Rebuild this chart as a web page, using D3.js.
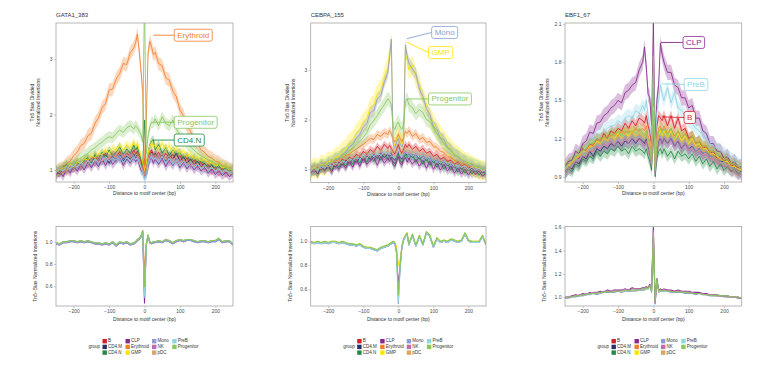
<!DOCTYPE html>
<html>
<head>
<meta charset="utf-8">
<script src="https://cdn.jsdelivr.net/npm/d3@7"></script>
<style>
  body { margin: 0; background: #fff; }
  text { font-family: "Liberation Sans", Arial, sans-serif; }
</style>
</head>
<body>
<svg id="chart" width="779" height="389"></svg>
<script>
// groups + palette
const groupNames = ['B', 'CD4.M', 'CD4.N', 'CLP', 'Erythroid', 'GMP', 'Mono', 'NK', 'pDC', 'PreB', 'Progenitor'];
const groupColors = ['#D51F26', '#272E6A', '#208A42', '#89288F', '#F47D2B', '#FEE500', '#8A9FD1', '#C06CAB', '#D8A767', '#90D5E4', '#89C75F'];

// distance to motif center (bp)
const positions = [-250,-240,-230,-220,-210,-200,-190,-180,-170,-160,-150,-140,-130,-120,-110,-100,-90,-80,-70,-60,-50,-40,-30,
  -25,-20,-15,-10,-5,0,5,10,15,20,25,
  30,40,50,60,70,80,90,100,110,120,130,140,150,160,170,180,190,200,210,220,230,240,250];
const xTicks = [-200, -100, 0, 100, 200];

// ---- GATA1_383, Tn5 bias divided ----
const g1_B = [0.92,1.0,0.96,1.05,1.02,1.1,1.04,1.14,1.08,1.2,1.12,1.24,1.16,1.22,1.3,1.18,1.28,1.22,1.33,1.2,1.3,1.24,1.36,
  1.28,1.34,1.22,1.16,1.05,0.92,1.0,1.22,1.3,1.36,1.28,
  1.24,1.32,1.2,1.3,1.22,1.28,1.18,1.26,1.14,1.22,1.1,1.18,1.08,1.14,1.04,1.1,0.98,1.06,0.96,1.03,0.94,1.0,0.96];
const g1_CD4M = [0.98,0.93,1.04,0.99,1.08,1.02,1.12,1.06,1.16,1.1,1.2,1.13,1.22,1.15,1.26,1.12,1.24,1.18,1.28,1.16,1.25,1.2,1.3,
  1.22,1.3,1.18,1.12,1.0,0.9,0.98,1.16,1.26,1.32,1.24,
  1.3,1.2,1.28,1.16,1.26,1.2,1.3,1.15,1.24,1.12,1.2,1.1,1.16,1.06,1.12,1.02,1.08,1.0,1.05,0.97,1.02,0.95,0.98];
const g1_CD4N = [1.0,0.94,1.06,1.1,1.0,1.1,1.14,1.06,1.18,1.22,1.12,1.28,1.2,1.32,1.22,1.36,1.26,1.32,1.42,1.28,1.38,1.3,1.45,
  1.36,1.42,1.3,1.2,1.08,1.9,1.0,1.3,1.45,1.52,1.55,
  1.36,1.46,1.3,1.4,1.26,1.36,1.28,1.32,1.2,1.26,1.16,1.22,1.12,1.16,1.1,1.06,1.1,1.02,1.08,1.0,1.05,0.98,1.02];
const g1_CLP = [0.9,0.98,0.88,1.02,0.95,1.06,0.98,1.1,1.0,1.14,1.04,1.16,1.06,1.2,1.08,1.22,1.1,1.18,1.25,1.08,1.2,1.12,1.24,
  1.15,1.2,1.1,1.0,0.95,1.2,0.9,1.05,1.18,1.22,1.12,
  1.2,1.1,1.22,1.06,1.18,1.08,1.2,1.04,1.15,1.02,1.12,1.0,1.08,0.98,1.05,0.94,1.02,0.92,0.98,0.9,0.96,0.88,0.94];
const g1_Ery = [0.97,1.02,1.04,1.12,1.16,1.26,1.32,1.44,1.48,1.62,1.66,1.84,1.94,2.12,2.2,2.44,2.46,2.64,2.74,2.92,2.9,3.12,3.2,
  3.3,3.45,3.15,2.8,2.4,1.0,1.9,3.1,3.32,3.22,3.08,
  3.12,2.92,2.88,2.66,2.62,2.42,2.32,2.08,1.98,1.78,1.7,1.52,1.48,1.36,1.32,1.24,1.22,1.16,1.14,1.08,1.06,1.02,1.0];
const g1_GMP = [0.95,1.0,1.04,0.98,1.1,1.06,1.15,1.12,1.2,1.18,1.26,1.22,1.3,1.28,1.36,1.3,1.4,1.34,1.44,1.36,1.46,1.4,1.5,
  1.42,1.48,1.36,1.25,1.12,1.0,1.1,1.3,1.44,1.5,1.4,
  1.46,1.38,1.48,1.36,1.44,1.32,1.4,1.3,1.35,1.24,1.3,1.2,1.24,1.16,1.2,1.12,1.14,1.08,1.1,1.04,1.06,1.0,1.02];
const g1_Mono = [0.96,1.02,0.97,1.06,1.0,1.1,1.04,1.12,1.08,1.16,1.1,1.2,1.12,1.24,1.14,1.22,1.18,1.26,1.16,1.24,1.2,1.28,1.18,
  1.26,1.2,1.14,1.06,0.98,0.85,0.95,1.1,1.22,1.26,1.2,
  1.24,1.16,1.26,1.14,1.22,1.12,1.2,1.1,1.18,1.08,1.14,1.06,1.1,1.04,1.08,1.0,1.04,0.98,1.02,0.96,1.0,0.94,0.98];
const g1_NK = [0.94,0.99,1.03,0.96,1.07,1.02,1.1,1.05,1.14,1.09,1.18,1.12,1.2,1.15,1.24,1.18,1.22,1.28,1.2,1.26,1.22,1.3,1.24,
  1.2,1.26,1.16,1.08,1.0,0.9,1.02,1.15,1.24,1.2,1.26,
  1.18,1.26,1.16,1.24,1.12,1.22,1.14,1.18,1.1,1.16,1.06,1.12,1.04,1.1,1.0,1.06,0.98,1.04,0.96,1.0,0.94,0.98,0.95];
const g1_pDC = [1.0,0.95,1.04,1.0,1.08,1.03,1.12,1.07,1.16,1.1,1.2,1.14,1.24,1.16,1.22,1.2,1.28,1.22,1.3,1.24,1.28,1.22,1.32,
  1.26,1.3,1.2,1.1,1.02,0.92,1.0,1.18,1.28,1.3,1.24,
  1.28,1.2,1.3,1.18,1.26,1.16,1.24,1.14,1.2,1.1,1.16,1.08,1.12,1.04,1.1,1.02,1.06,1.0,1.04,0.98,1.02,0.96,1.0];
const g1_PreB = [0.95,1.02,0.98,1.06,1.02,1.1,1.05,1.14,1.08,1.18,1.1,1.2,1.14,1.18,1.24,1.16,1.22,1.18,1.26,1.14,1.22,1.16,1.24,
  1.18,1.22,1.14,1.05,0.95,0.82,0.88,1.1,1.2,1.24,1.18,
  1.22,1.14,1.24,1.12,1.2,1.1,1.18,1.08,1.16,1.06,1.12,1.04,1.1,1.02,1.06,1.0,1.04,0.98,1.02,0.96,1.0,0.95,0.98];
const g1_Prog = [0.95,1.02,1.0,1.08,1.12,1.1,1.18,1.22,1.26,1.3,1.36,1.4,1.46,1.5,1.56,1.6,1.58,1.66,1.72,1.68,1.76,1.8,1.74,
  1.8,1.76,1.7,1.64,1.5,4.2,1.3,1.6,1.78,1.86,1.85,
  1.92,1.8,1.96,1.84,1.8,1.9,1.74,1.62,1.56,1.46,1.42,1.36,1.3,1.26,1.22,1.18,1.16,1.12,1.1,1.08,1.05,1.02,1.0];
const g1_spread = [0.08, 0.07, 0.08, 0.08, 0.12, 0.08, 0.07, 0.08, 0.07, 0.08, 0.1];

// ---- CEBPA_155 ----
const g2_B = [0.95,1.02,0.98,1.08,1.02,1.1,1.06,1.14,1.1,1.2,1.16,1.24,1.2,1.3,1.26,1.36,1.3,1.4,1.34,1.46,1.38,1.5,1.42,
  1.48,1.42,1.36,1.3,1.4,1.5,1.38,1.32,1.4,1.5,1.44,
  1.5,1.4,1.46,1.36,1.42,1.32,1.36,1.26,1.3,1.2,1.24,1.16,1.18,1.1,1.14,1.06,1.1,1.02,1.06,0.98,1.02,0.95,0.98];
const g2_CD4M = [1.0,0.94,1.04,0.98,1.06,1.02,1.1,1.04,1.14,1.08,1.18,1.12,1.2,1.14,1.24,1.18,1.26,1.2,1.3,1.22,1.32,1.24,1.3,
  1.26,1.32,1.22,1.18,1.28,1.36,1.24,1.2,1.3,1.34,1.28,
  1.32,1.24,1.3,1.2,1.28,1.18,1.24,1.14,1.2,1.1,1.16,1.08,1.12,1.04,1.1,1.0,1.06,0.98,1.02,0.95,1.0,0.93,0.96];
const g2_CD4N = [0.96,1.02,0.9,1.06,1.0,1.08,0.98,1.12,1.04,1.16,1.06,1.2,1.1,1.24,1.12,1.26,1.14,1.3,1.16,1.28,1.18,1.32,1.2,
  1.26,1.2,1.15,1.1,1.2,1.3,1.18,1.12,1.22,1.3,1.24,
  1.2,1.3,1.14,1.26,1.1,1.22,1.08,1.18,1.04,1.16,1.0,1.12,0.98,1.08,0.94,1.06,0.92,1.02,0.9,1.0,0.88,0.96,0.9];
const g2_CLP = [0.92,1.0,0.9,1.04,0.96,1.06,0.94,1.1,1.0,1.12,1.02,1.16,1.04,1.2,1.06,1.22,1.1,1.18,1.24,1.08,1.26,1.12,1.22,
  1.16,1.24,1.1,1.06,1.15,1.25,1.12,1.08,1.18,1.24,1.14,
  1.22,1.1,1.2,1.06,1.18,1.02,1.16,1.0,1.12,0.98,1.1,0.96,1.06,0.92,1.02,0.9,1.0,0.88,0.98,0.9,0.96,0.86,0.92];
const g2_Ery = [0.98,1.04,1.0,1.08,1.05,1.1,1.12,1.16,1.2,1.22,1.28,1.3,1.36,1.4,1.46,1.5,1.56,1.62,1.6,1.7,1.66,1.74,1.7,
  1.78,1.72,1.6,1.55,1.6,1.7,1.62,1.56,1.64,1.76,1.72,
  1.78,1.66,1.72,1.6,1.64,1.54,1.56,1.46,1.44,1.36,1.34,1.26,1.24,1.18,1.16,1.12,1.1,1.06,1.05,1.02,1.0,0.98,0.97];
const g2_GMP = [0.98,1.04,1.0,1.1,1.06,1.16,1.14,1.24,1.26,1.36,1.4,1.52,1.58,1.72,1.8,1.95,2.02,2.24,2.3,2.52,2.6,2.85,3.05,
  3.35,3.55,1.55,1.48,1.6,1.66,1.56,1.5,1.58,3.42,3.2,
  3.0,3.1,2.85,2.7,2.42,2.3,2.06,1.92,1.78,1.68,1.58,1.5,1.4,1.32,1.26,1.2,1.14,1.12,1.06,1.04,1.0,0.98,0.96];
const g2_Mono = [0.96,1.02,0.97,1.08,1.03,1.12,1.1,1.2,1.2,1.3,1.34,1.45,1.5,1.63,1.7,1.85,1.92,2.14,2.18,2.42,2.48,2.76,2.95,
  3.25,3.62,1.5,1.42,1.55,1.62,1.5,1.45,1.52,3.5,3.28,
  3.14,3.02,2.92,2.62,2.46,2.22,2.1,1.86,1.8,1.62,1.6,1.44,1.4,1.28,1.26,1.16,1.16,1.08,1.08,1.0,1.02,0.96,0.97];
const g2_NK = [0.98,0.94,1.04,1.0,1.08,1.02,1.12,1.06,1.16,1.1,1.2,1.14,1.22,1.16,1.26,1.2,1.28,1.22,1.3,1.24,1.34,1.26,1.32,
  1.28,1.34,1.24,1.2,1.3,1.38,1.26,1.22,1.32,1.36,1.3,
  1.34,1.26,1.32,1.22,1.3,1.2,1.26,1.16,1.22,1.12,1.18,1.08,1.14,1.04,1.1,1.02,1.06,0.98,1.04,0.96,1.0,0.94,0.98];
const g2_pDC = [1.02,0.97,1.06,1.0,1.1,1.04,1.14,1.08,1.18,1.12,1.22,1.16,1.26,1.2,1.3,1.22,1.34,1.26,1.36,1.3,1.4,1.32,1.38,
  1.34,1.4,1.3,1.26,1.36,1.42,1.32,1.28,1.36,1.42,1.36,
  1.4,1.3,1.38,1.28,1.34,1.24,1.3,1.2,1.26,1.16,1.2,1.12,1.16,1.08,1.12,1.04,1.08,1.0,1.05,0.98,1.02,0.96,1.0];
const g2_PreB = [0.96,1.02,0.98,1.06,1.02,1.1,1.06,1.12,1.1,1.16,1.14,1.2,1.18,1.24,1.2,1.28,1.22,1.3,1.26,1.32,1.28,1.34,1.3,
  1.32,1.28,1.24,1.22,1.3,1.4,1.28,1.24,1.3,1.34,1.3,
  1.32,1.26,1.3,1.24,1.28,1.2,1.24,1.16,1.2,1.12,1.16,1.1,1.12,1.06,1.08,1.04,1.06,1.0,1.04,0.98,1.02,0.96,1.0];
const g2_Prog = [0.98,1.02,1.0,1.08,1.06,1.12,1.14,1.2,1.22,1.28,1.3,1.38,1.42,1.5,1.56,1.64,1.74,1.9,1.98,2.08,2.2,2.3,2.42,
  2.38,2.3,1.85,1.8,1.9,1.95,1.85,1.8,1.9,2.35,2.42,
  2.3,2.24,2.12,2.2,2.14,2.0,1.96,1.84,1.72,1.62,1.52,1.44,1.36,1.3,1.26,1.2,1.16,1.12,1.1,1.06,1.04,1.0,1.0];
const g2_spread = [0.08, 0.07, 0.09, 0.08, 0.09, 0.2, 0.12, 0.08, 0.07, 0.08, 0.14];

// ---- EBF1_67 ----
const g3_B = [0.95,1.0,1.0,1.06,1.04,1.12,1.1,1.16,1.14,1.2,1.18,1.24,1.2,1.26,1.24,1.28,1.26,1.32,1.28,1.34,1.3,1.36,1.34,
  1.32,1.38,1.3,1.25,1.15,1.6,1.1,1.3,1.38,1.36,1.34,
  1.38,1.3,1.38,1.28,1.36,1.26,1.28,1.2,1.22,1.16,1.18,1.12,1.14,1.08,1.1,1.04,1.06,1.02,1.04,0.98,1.0,0.95,0.97];
const g3_CD4M = [0.94,0.98,0.96,1.02,1.0,1.06,1.04,1.1,1.06,1.12,1.1,1.14,1.12,1.16,1.14,1.18,1.14,1.18,1.16,1.2,1.16,1.2,1.18,
  1.16,1.2,1.14,1.1,1.0,1.3,0.95,1.1,1.18,1.2,1.16,
  1.2,1.16,1.2,1.14,1.18,1.12,1.16,1.12,1.14,1.1,1.12,1.08,1.1,1.06,1.06,1.04,1.02,1.02,1.0,0.98,0.97,0.95,0.94];
const g3_CD4N = [0.92,0.96,0.94,1.0,0.98,1.04,1.02,1.06,1.04,1.1,1.06,1.1,1.08,1.12,1.1,1.14,1.1,1.12,1.08,1.14,1.1,1.12,1.1,
  1.08,1.12,1.06,1.02,0.95,1.4,0.9,1.04,1.1,1.12,1.08,
  1.12,1.06,1.1,1.04,1.1,1.06,1.08,1.04,1.08,1.02,1.06,1.0,1.04,0.98,1.02,0.96,1.0,0.95,0.98,0.94,0.96,0.92,0.94];
const g3_CLP = [0.98,1.02,1.03,1.1,1.08,1.16,1.18,1.25,1.24,1.32,1.33,1.38,1.4,1.44,1.46,1.5,1.48,1.56,1.58,1.62,1.64,1.74,1.8,
  1.92,1.76,1.55,1.52,1.3,2.12,1.2,1.5,1.62,1.95,1.86,
  1.8,1.72,1.72,1.62,1.6,1.52,1.52,1.44,1.46,1.36,1.36,1.26,1.24,1.16,1.16,1.1,1.1,1.04,1.06,1.0,1.02,0.97,0.98];
const g3_Ery = [0.96,1.0,1.02,1.04,1.08,1.1,1.12,1.14,1.16,1.18,1.2,1.2,1.22,1.22,1.24,1.22,1.26,1.24,1.26,1.24,1.28,1.26,1.28,
  1.26,1.3,1.22,1.18,1.05,1.5,1.0,1.2,1.28,1.3,1.26,
  1.3,1.24,1.28,1.22,1.26,1.2,1.24,1.18,1.22,1.16,1.18,1.14,1.14,1.1,1.1,1.08,1.06,1.04,1.04,1.0,1.0,0.98,0.96];
const g3_GMP = [0.95,0.99,1.01,1.05,1.06,1.1,1.1,1.14,1.14,1.18,1.16,1.2,1.18,1.22,1.2,1.24,1.2,1.24,1.22,1.26,1.22,1.24,1.22,
  1.2,1.24,1.18,1.12,1.02,1.45,0.98,1.16,1.22,1.26,1.22,
  1.26,1.2,1.26,1.18,1.24,1.18,1.22,1.16,1.2,1.14,1.16,1.12,1.12,1.08,1.08,1.06,1.04,1.02,1.02,0.98,0.98,0.96,0.95];
const g3_Mono = [0.93,0.97,0.99,1.02,1.04,1.08,1.08,1.12,1.12,1.15,1.14,1.18,1.16,1.2,1.16,1.2,1.18,1.22,1.18,1.22,1.2,1.22,1.2,
  1.18,1.22,1.15,1.1,1.0,1.4,0.95,1.12,1.2,1.22,1.18,
  1.22,1.18,1.22,1.16,1.2,1.14,1.18,1.12,1.16,1.1,1.12,1.08,1.1,1.06,1.06,1.04,1.02,1.0,1.0,0.97,0.96,0.94,0.93];
const g3_NK = [0.92,0.96,0.98,1.02,1.02,1.06,1.06,1.1,1.1,1.14,1.12,1.16,1.14,1.18,1.14,1.18,1.16,1.2,1.16,1.2,1.18,1.2,1.16,
  1.14,1.18,1.12,1.06,0.98,1.35,0.92,1.08,1.16,1.2,1.16,
  1.2,1.16,1.2,1.14,1.18,1.12,1.16,1.1,1.14,1.08,1.1,1.06,1.08,1.04,1.04,1.02,1.0,0.98,0.98,0.95,0.94,0.92,0.92];
const g3_pDC = [0.95,0.98,1.0,1.04,1.06,1.08,1.1,1.12,1.14,1.16,1.16,1.2,1.18,1.22,1.18,1.22,1.2,1.24,1.2,1.24,1.22,1.24,1.22,
  1.2,1.24,1.16,1.12,1.02,1.42,0.98,1.14,1.22,1.24,1.2,
  1.24,1.2,1.24,1.18,1.22,1.16,1.2,1.14,1.18,1.12,1.14,1.1,1.1,1.08,1.06,1.04,1.04,1.02,1.0,0.98,0.97,0.95,0.95];
const g3_PreB = [0.96,1.0,1.02,1.06,1.08,1.1,1.14,1.16,1.2,1.2,1.24,1.26,1.28,1.3,1.3,1.34,1.32,1.36,1.38,1.36,1.42,1.4,1.46,
  1.42,1.5,1.38,1.3,1.2,1.7,1.1,1.4,1.5,1.62,1.55,
  1.5,1.6,1.48,1.56,1.44,1.42,1.38,1.34,1.32,1.28,1.26,1.22,1.2,1.16,1.14,1.12,1.1,1.08,1.06,1.04,1.02,1.0,0.98];
const g3_Prog = [0.96,1.0,1.02,1.06,1.08,1.1,1.12,1.16,1.16,1.2,1.18,1.22,1.2,1.24,1.22,1.26,1.22,1.26,1.24,1.26,1.24,1.28,1.24,
  1.22,1.26,1.2,1.14,1.0,1.85,0.95,1.18,1.26,1.28,1.24,
  1.28,1.22,1.28,1.2,1.26,1.2,1.24,1.18,1.22,1.16,1.18,1.14,1.14,1.1,1.1,1.08,1.06,1.04,1.04,1.0,1.0,0.98,0.96];
const g3_spread = [0.045, 0.045, 0.045, 0.06, 0.045, 0.045, 0.045, 0.045, 0.045, 0.055, 0.045];

// ---- Tn5 bias normalized (bottom row) ----
const b1_Mono = [0.98,0.97,0.99,0.99,1.0,1.0,0.99,1.0,0.99,1.0,0.99,0.98,0.98,0.97,0.98,0.97,0.99,0.96,0.99,0.98,0.99,0.97,0.98,
  0.99,1.01,1.02,1.04,1.08,0.5,0.97,1.05,0.99,0.98,0.99,
  0.99,1.0,0.99,1.01,1.0,0.98,1.0,1.01,1.0,1.01,1.01,1.0,0.99,1.0,1.0,0.99,1.0,1.0,1.02,0.99,1.0,1.0,0.97];
const b1_CLP = [0.98,0.97,0.99,0.99,1.0,1.0,0.99,1.0,0.99,1.0,0.99,0.98,0.98,0.97,0.98,0.97,0.99,0.96,0.99,0.98,0.99,0.97,0.98,
  0.99,1.01,1.02,1.04,1.08,0.45,0.97,1.05,0.99,0.98,0.99,
  0.99,1.0,0.99,1.01,1.0,0.98,1.0,1.01,1.0,1.01,1.01,1.0,0.99,1.0,1.0,0.99,1.0,1.0,1.02,0.99,1.0,1.0,0.97];
const b1_Ery = [0.99,0.98,1.0,1.0,1.01,1.01,1.0,1.01,1.0,1.01,1.0,0.99,0.99,0.98,0.99,0.98,1.0,0.97,1.0,0.99,1.0,0.98,0.99,
  1.0,1.02,1.03,1.05,1.1,0.72,0.98,1.06,1.0,0.99,1.0,
  1.0,1.01,1.0,1.02,1.01,0.99,1.01,1.02,1.01,1.02,1.02,1.01,1.0,1.01,1.01,1.0,1.01,1.01,1.03,1.0,1.01,1.01,0.98];
const b1_PreB = [0.99,0.98,1.0,1.0,1.01,1.01,1.0,1.01,1.0,1.01,1.0,0.99,0.99,0.98,0.99,0.98,1.0,0.97,1.0,0.99,1.0,0.98,0.99,
  1.0,1.02,1.03,1.05,1.1,0.52,0.98,1.06,1.0,0.99,1.0,
  1.0,1.01,1.0,1.02,1.01,0.99,1.01,1.02,1.01,1.02,1.02,1.01,1.0,1.01,1.01,1.0,1.01,1.01,1.03,1.0,1.01,1.01,0.98];
const b1_Prog = [0.99,0.98,1.0,1.0,1.01,1.01,1.0,1.01,1.0,1.01,1.0,0.99,0.99,0.98,0.99,0.98,1.0,0.97,1.0,0.99,1.0,0.98,0.99,
  1.0,1.02,1.03,1.05,1.1,0.6,0.98,1.06,1.0,0.99,1.0,
  1.0,1.01,1.0,1.02,1.01,0.99,1.01,1.02,1.01,1.02,1.02,1.01,1.0,1.01,1.01,1.0,1.01,1.01,1.03,1.0,1.01,1.01,0.98];

const b2_Mono = [0.99,0.98,0.99,0.98,0.99,0.98,0.99,0.99,0.98,0.99,0.98,0.97,0.97,0.96,0.97,0.95,0.94,0.94,0.93,0.92,0.94,0.95,0.96,
  0.97,0.98,0.99,0.98,0.9,0.48,0.78,0.95,1.01,1.04,1.06,
  0.97,1.05,0.96,1.04,0.97,1.07,1.04,0.95,1.02,0.99,1.0,0.99,1.01,1.0,0.99,1.0,1.06,1.0,0.99,0.99,0.99,1.04,0.97];
const b2_CLP = [0.99,0.98,0.99,0.98,0.99,0.98,0.99,0.99,0.98,0.99,0.98,0.97,0.97,0.96,0.97,0.95,0.94,0.94,0.93,0.92,0.94,0.95,0.96,
  0.97,0.98,0.99,0.98,0.91,0.62,0.79,0.95,1.01,1.04,1.06,
  0.97,1.05,0.96,1.04,0.97,1.07,1.04,0.95,1.02,0.99,1.0,0.99,1.01,1.0,0.99,1.0,1.06,1.0,0.99,0.99,0.99,1.04,0.97];
const b2_GMP = [1.0,0.99,1.0,0.99,1.0,0.99,1.0,1.0,0.99,1.0,0.99,0.98,0.98,0.97,0.98,0.96,0.95,0.95,0.94,0.93,0.95,0.96,0.97,
  0.98,0.99,1.0,0.99,0.95,0.8,0.85,0.96,1.02,1.05,1.07,
  0.98,1.06,0.97,1.05,0.98,1.08,1.05,0.96,1.03,1.0,1.01,1.0,1.02,1.01,1.0,1.01,1.07,1.01,1.0,1.0,1.0,1.05,0.98];
const b2_PreB = [0.99,0.98,0.99,0.98,0.99,0.98,0.99,0.99,0.98,0.99,0.98,0.97,0.97,0.96,0.97,0.95,0.94,0.94,0.93,0.92,0.94,0.95,0.96,
  0.97,0.98,0.99,0.98,0.9,0.5,0.78,0.95,1.01,1.04,1.06,
  0.97,1.05,0.96,1.04,0.97,1.07,1.04,0.95,1.02,0.99,1.0,0.99,1.01,1.0,0.99,1.0,1.06,1.0,0.99,0.99,0.99,1.04,0.97];
const b2_Prog = [1.0,0.99,1.0,0.99,1.0,0.99,1.0,1.0,0.99,1.0,0.99,0.98,0.98,0.97,0.98,0.96,0.95,0.95,0.94,0.93,0.95,0.96,0.97,
  0.98,0.99,1.0,0.99,0.92,0.55,0.8,0.96,1.02,1.05,1.07,
  0.98,1.06,0.97,1.05,0.98,1.08,1.05,0.96,1.03,1.0,1.01,1.0,1.02,1.01,1.0,1.01,1.07,1.01,1.0,1.0,1.0,1.05,0.98];

const b3_CLP = [1.0,1.0,1.01,1.02,1.01,1.03,1.02,1.04,1.03,1.04,1.05,1.04,1.06,1.05,1.06,1.06,1.06,1.07,1.06,1.08,1.07,1.07,1.08,
  1.08,1.09,1.08,1.11,1.06,1.6,0.95,1.16,1.06,1.07,1.06,
  1.07,1.06,1.06,1.05,1.06,1.05,1.05,1.05,1.04,1.04,1.04,1.03,1.03,1.02,1.02,1.02,1.01,1.01,1.01,1.0,1.0,1.0,0.99];
const b3_Mono = [0.99,0.99,1.0,1.0,1.01,1.01,1.02,1.02,1.03,1.02,1.03,1.04,1.04,1.04,1.04,1.05,1.04,1.05,1.05,1.05,1.05,1.06,1.06,
  1.06,1.07,1.07,1.09,1.04,1.5,0.94,1.13,1.04,1.05,1.05,
  1.05,1.05,1.04,1.04,1.04,1.04,1.03,1.03,1.03,1.02,1.03,1.02,1.02,1.01,1.01,1.01,1.01,1.0,1.0,1.0,1.0,0.99,0.99];
const b3_NK = [0.99,1.0,1.01,1.01,1.02,1.02,1.03,1.03,1.04,1.04,1.04,1.05,1.05,1.05,1.06,1.05,1.06,1.07,1.06,1.07,1.07,1.07,1.07,
  1.08,1.08,1.08,1.1,1.06,1.57,0.95,1.15,1.06,1.06,1.06,
  1.06,1.06,1.05,1.05,1.05,1.05,1.04,1.04,1.04,1.03,1.03,1.03,1.02,1.02,1.02,1.01,1.01,1.01,1.0,1.0,1.0,0.99,0.99];
const b3_Prog = [0.99,1.0,1.0,1.01,1.01,1.02,1.02,1.03,1.03,1.03,1.04,1.04,1.05,1.04,1.05,1.05,1.05,1.06,1.05,1.06,1.06,1.06,1.07,
  1.07,1.08,1.07,1.1,1.05,1.55,0.96,1.15,1.05,1.06,1.05,
  1.06,1.05,1.05,1.04,1.05,1.04,1.04,1.04,1.03,1.03,1.03,1.02,1.02,1.02,1.01,1.02,1.01,1.01,1.01,1.0,1.0,1.0,0.99];

// labels: group, anchor (bp, value), box left (bp), box centre (value)
const g1_labels = [['Erythroid', 25, 3.43, 84, 3.43], ['Progenitor', 25, 1.86, 84, 1.86], ['CD4.N', 25, 1.54, 84, 1.54]];
const g2_labels = [['Mono', 24, 3.63, 95, 3.755], ['GMP', 24, 3.56, 86, 3.35], ['Progenitor', 24, 2.416, 86, 2.416]];
const g3_labels = [['CLP', 21, 1.955, 84, 1.955], ['PreB', 24, 1.63, 87, 1.625], ['B', 24, 1.37, 87, 1.365]];

const svg = d3.select('#chart');
const colorOf = name => groupColors[groupNames.indexOf(name)];
const axisGrey = '#a6a6a6', textGrey = '#4d4d4d';

const panels = [
  {id: 'p1', title: 'GATA1_383', left: 56, right: 233, top: 23, bottom: 182, yDomain: [0.784, 3.65], yTicks: [1, 2, 3], fmt: d3.format('d'),
   series: {'B': g1_B, 'CD4.M': g1_CD4M, 'CD4.N': g1_CD4N, 'CLP': g1_CLP, 'Erythroid': g1_Ery, 'GMP': g1_GMP, 'Mono': g1_Mono, 'NK': g1_NK, 'pDC': g1_pDC, 'PreB': g1_PreB, 'Progenitor': g1_Prog},
   spread: g1_spread, labels: g1_labels, yLabel: ['Tn5 Bias Divided', 'Normalized Insertions'], titleGap: 12},
  {id: 'p2', title: 'CEBPA_155', left: 310.7, right: 486, top: 23, bottom: 182.5, yDomain: [0.732, 3.946], yTicks: [1, 2, 3], fmt: d3.format('d'),
   series: {'B': g2_B, 'CD4.M': g2_CD4M, 'CD4.N': g2_CD4N, 'CLP': g2_CLP, 'Erythroid': g2_Ery, 'GMP': g2_GMP, 'Mono': g2_Mono, 'NK': g2_NK, 'pDC': g2_pDC, 'PreB': g2_PreB, 'Progenitor': g2_Prog},
   spread: g2_spread, labels: g2_labels, yLabel: ['Tn5 Bias Divided', 'Normalized Insertions'], titleGap: 12},
  {id: 'p3', title: 'EBF1_67', left: 565, right: 741.7, top: 23, bottom: 182, yDomain: [0.858, 2.108], yTicks: [0.9, 1.2, 1.5, 1.8, 2.1], fmt: d3.format('.1f'),
   series: {'B': g3_B, 'CD4.M': g3_CD4M, 'CD4.N': g3_CD4N, 'CLP': g3_CLP, 'Erythroid': g3_Ery, 'GMP': g3_GMP, 'Mono': g3_Mono, 'NK': g3_NK, 'pDC': g3_pDC, 'PreB': g3_PreB, 'Progenitor': g3_Prog},
   spread: g3_spread, labels: g3_labels, yLabel: ['Tn5 Bias Divided', 'Normalized Insertions'], titleGap: 12},
  {id: 'q1', left: 56, right: 233, top: 226.5, bottom: 306, yDomain: [0.423, 1.136], yTicks: [0.6, 0.8, 1.0], fmt: d3.format('.1f'),
   series: {'CLP': b1_CLP, 'Erythroid': b1_Ery, 'Mono': b1_Mono, 'PreB': b1_PreB, 'Progenitor': b1_Prog},
   yLabel: ['Tn5\u2212Bias Normalized Insertions'], legend: true, titleGap: 14},
  {id: 'q2', left: 310.7, right: 486, top: 226.5, bottom: 306, yDomain: [0.461, 1.123], yTicks: [0.6, 0.8, 1.0], fmt: d3.format('.1f'),
   series: {'CLP': b2_CLP, 'GMP': b2_GMP, 'Mono': b2_Mono, 'PreB': b2_PreB, 'Progenitor': b2_Prog},
   yLabel: ['Tn5\u2212Bias Normalized Insertions'], legend: true, titleGap: 14},
  {id: 'q3', left: 565, right: 741.7, top: 226.5, bottom: 306, yDomain: [0.923, 1.607], yTicks: [1.0, 1.2, 1.4, 1.6], fmt: d3.format('.1f'),
   series: {'CLP': b3_CLP, 'Mono': b3_Mono, 'NK': b3_NK, 'Progenitor': b3_Prog},
   yLabel: ['Tn5\u2212Bias Normalized Insertions'], legend: true, titleGap: 14}
];

function drawPanel(p) {
  const x = d3.scaleLinear().domain([-250, 250]).range([p.left, p.right]);
  const y = d3.scaleLinear().domain(p.yDomain).range([p.bottom, p.top]);
  const g = svg.append('g');

  g.append('clipPath').attr('id', 'clip-' + p.id)
    .append('rect').attr('x', p.left).attr('y', p.top)
    .attr('width', p.right - p.left).attr('height', p.bottom - p.top);
  const plot = g.append('g').attr('clip-path', `url(#clip-${p.id})`);

  const drawn = groupNames.filter(n => p.series[n]);
  const rows = name => positions.map((bp, k) => ({bp, v: p.series[name][k]})).filter(d => d.v != null);

  // ribbons first, lines over them
  if (p.spread) {
    drawn.forEach(name => {
      const sd = p.spread[groupNames.indexOf(name)];
      plot.append('path').datum(rows(name))
        .attr('d', d3.area().x(d => x(d.bp)).y0(d => y(d.v - sd)).y1(d => y(d.v + sd)))
        .attr('fill', colorOf(name)).attr('opacity', 0.3);
    });
  }
  drawn.forEach(name => {
    plot.append('path').datum(rows(name))
      .attr('d', d3.line().x(d => x(d.bp)).y(d => y(d.v)))
      .attr('fill', 'none').attr('stroke', colorOf(name))
      .attr('stroke-width', p.spread ? 0.85 : 1.1).attr('stroke-linejoin', 'round');
  });

  // frame
  g.append('rect').attr('x', p.left).attr('y', p.top)
    .attr('width', p.right - p.left).attr('height', p.bottom - p.top)
    .attr('fill', 'none').attr('stroke', axisGrey).attr('stroke-width', 0.8);

  // axes
  const xa = g.append('g').attr('transform', `translate(0,${p.bottom})`)
    .call(d3.axisBottom(x).tickValues(xTicks).tickSize(2).tickPadding(1.5));
  const ya = g.append('g').attr('transform', `translate(${p.left},0)`)
    .call(d3.axisLeft(y).tickValues(p.yTicks).tickFormat(p.fmt).tickSize(2).tickPadding(1.5));
  [xa, ya].forEach(a => {
    a.select('.domain').remove();
    a.selectAll('line').attr('stroke', axisGrey).attr('stroke-width', 0.6);
    a.selectAll('text').attr('fill', textGrey).style('font-size', '5px');
  });

  g.append('text').attr('x', (p.left + p.right) / 2).attr('y', p.bottom + p.titleGap)
    .attr('text-anchor', 'middle').attr('dominant-baseline', 'middle')
    .attr('fill', '#333').style('font-size', '5px').text('Distance to motif center (bp)');

  const cy = (p.top + p.bottom) / 2;
  p.yLabel.forEach((line, i) => {
    const lx = p.yLabel.length === 2 ? p.left - 23 + i * 5.5 : p.left - 20;
    g.append('text').attr('transform', `translate(${lx},${cy}) rotate(-90)`)
      .attr('text-anchor', 'middle').attr('dominant-baseline', 'middle')
      .attr('fill', '#333').style('font-size', '5px').text(line);
  });

  if (p.title) {
    g.append('text').attr('x', p.left).attr('y', 17).attr('fill', '#333')
      .style('font-size', '6px').text(p.title);
  }

  if (p.labels) {
    p.labels.forEach(([name, ax, av, bx, bv]) => {
      const c = colorOf(name);
      g.append('line').attr('x1', x(ax)).attr('y1', y(av)).attr('x2', x(bx)).attr('y2', y(bv))
        .attr('stroke', c).attr('stroke-width', 0.9);
      const lg = g.append('g');
      const rect = lg.append('rect');
      const t = lg.append('text').attr('x', x(bx) + 3).attr('y', y(bv))
        .attr('dominant-baseline', 'central').attr('fill', c).style('font-size', '8px').text(name);
      const w = t.node().getComputedTextLength();
      rect.attr('x', x(bx)).attr('y', y(bv) - 6).attr('width', w + 6).attr('height', 12)
        .attr('rx', 2).attr('fill', 'white').attr('stroke', c).attr('stroke-width', 0.8);
    });
  }

  if (p.legend) {
    const colX = [0, 23, 49.5, 69.7];
    const x0 = p.left + 46.5;
    const lg = svg.append('g');
    lg.append('text').attr('x', x0 - 2.5).attr('y', 346.7).attr('text-anchor', 'end')
      .attr('dominant-baseline', 'middle').attr('fill', '#333').style('font-size', '4.5px').text('group');
    groupNames.forEach((name, i) => {
      const col = Math.floor(i / 3), row = i % 3;
      const sx = x0 + colX[col], sy = 339 + row * 5.7;
      lg.append('rect').attr('x', sx).attr('y', sy).attr('width', 4.4).attr('height', 4.4)
        .attr('fill', groupColors[i]);
      lg.append('text').attr('x', sx + 5.6).attr('y', sy + 2.3).attr('dominant-baseline', 'middle')
        .attr('fill', '#333').style('font-size', '4.5px').text(name);
    });
  }
}

panels.forEach(drawPanel);
</script>
</body>
</html>
